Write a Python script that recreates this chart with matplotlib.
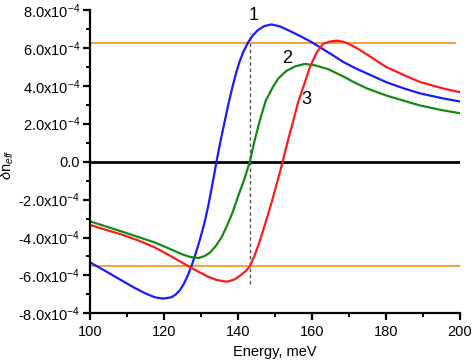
import matplotlib.pyplot as plt
import numpy as np
from matplotlib.ticker import MultipleLocator

plt.rcParams['font.family'] = ['Liberation Sans', 'DejaVu Sans']
plt.rcParams['mathtext.fontset'] = 'custom'
plt.rcParams['mathtext.rm'] = 'Liberation Sans'
plt.rcParams['mathtext.it'] = 'Liberation Sans:italic'

# curve 1 (blue), values in 1e-4
e1 = [100, 104, 108, 112, 115, 117.5, 119.8, 122, 123.2, 124.4, 125.4, 126.4, 127.4, 128.4,
      129.4, 130.3, 131.1, 132, 132.9, 133.6, 134.2, 135.3, 136.5, 137.5, 138.4, 139.4, 140.4,
      141.5, 142.8, 144, 145.5, 147.2, 149.1, 151.3, 154.1, 157, 159.9, 162, 165.8, 168.5,
      172, 176, 180.2, 185, 189.2, 195, 200]
n1 = [-5.31, -5.75, -6.2, -6.65, -6.95, -7.15, -7.22, -7.15, -7.0, -6.75, -6.43, -6.02, -5.52,
      -4.95, -4.32, -3.7, -3.1, -2.3, -1.38, -0.65, 0, 1.1, 2.2, 3.1, 3.85, 4.6, 5.25, 5.8, 6.3,
      6.65, 6.95, 7.15, 7.23, 7.13, 6.88, 6.6, 6.3, 6.05, 5.59, 5.25, 4.9, 4.55, 4.18, 3.85,
      3.6, 3.35, 3.17]

# curve 2 (green)
e2 = [100, 104, 108.5, 113, 117.5, 121, 124.7, 127, 129.3, 131, 132.5, 134, 135.6, 137,
      138.5, 140, 141.7, 143.2, 144.5, 145.9, 147.5, 149.5, 151, 153.1, 155.5, 158.1, 161,
      164.4, 168.9, 171.2, 175, 180.2, 185, 189.2, 195, 200]
n2 = [-3.15, -3.4, -3.68, -3.97, -4.26, -4.55, -4.87, -5.02, -5.08, -4.98, -4.78, -4.45, -3.98,
      -3.4, -2.7, -1.85, -0.95, 0, 1.1, 2.16, 3.2, 3.95, 4.4, 4.78, 5.02, 5.15, 5.07, 4.87,
      4.45, 4.2, 3.85, 3.48, 3.2, 2.96, 2.72, 2.55]

# curve 3 (red)
e3 = [100, 104, 108.5, 113, 117.5, 122, 126.5, 129.7, 132, 134.1, 136.9, 139, 141, 142.2,
      143.2, 144.5, 145.8, 146.8, 148.2, 149.5, 150.8, 152.1, 153.5, 154.9, 156.3, 157.8,
      159.5, 161.3, 163, 164.8, 166.7, 168.5, 170, 171.5, 173, 175.7, 178, 180.2, 185, 189.2,
      195, 200]
n3 = [-3.34, -3.58, -3.84, -4.15, -4.52, -5.0, -5.5, -5.84, -6.07, -6.23, -6.33, -6.22, -5.95,
      -5.75, -5.52, -4.95, -4.25, -3.64, -2.75, -1.88, -0.95, 0, 1.1, 2.1, 3.15, 4.0, 5.0,
      5.75, 6.2, 6.33, 6.37, 6.32, 6.2, 6.05, 5.88, 5.55, 5.25, 4.98, 4.55, 4.2, 3.88, 3.66]

upper_level = 6.24
lower_level = -5.52
marker_e = 143.2
scale = 1e-4

fig = plt.figure(figsize=(4.74, 3.64), dpi=100)
ax = fig.add_axes([0.19, 0.139, 0.78, 0.834])

ax.plot([100, 198.6], [upper_level * scale] * 2, color='#f39a2e', lw=1.3)
ax.plot([100, 200], [lower_level * scale] * 2, color='#f39a2e', lw=1.3)
ax.axhline(0, color='black', lw=2)
ax.plot([marker_e, marker_e], [-6.45e-4, 6.8e-4], color='#555555', lw=1, ls=(0, (2.5, 2)))

ax.plot(e1, np.array(n1) * scale, color='#1a1aff', lw=1.6)
ax.plot(e2, np.array(n2) * scale, color='#138a13', lw=1.6)
ax.plot(e3, np.array(n3) * scale, color='#ff1a1a', lw=1.6)

ax.text(144.3, 7.7e-4, '1', fontsize=13, ha='center', va='center')
ax.text(153.2, 5.43e-4, '2', fontsize=13, ha='center', va='center')
ax.text(158.6, 3.27e-4, '3', fontsize=13, ha='center', va='center')

ax.set_xlim(100, 200)
ax.set_ylim(-8e-4, 8e-4)
ax.xaxis.set_major_locator(MultipleLocator(20))
ax.xaxis.set_minor_locator(MultipleLocator(10))
ax.yaxis.set_minor_locator(MultipleLocator(1e-4))

yt = np.arange(-8, 9, 2)
ax.set_yticks(yt * scale)
ax.set_yticklabels(['0.0' if v == 0 else f'{v:.1f}x10$^{{-4}}$' for v in yt])

for s in ['top', 'right']:
    ax.spines[s].set_visible(False)
for s in ['left', 'bottom']:
    ax.spines[s].set_linewidth(1.6)
ax.tick_params(which='major', length=5, width=1.6, labelsize=10.5)
ax.tick_params(axis='y', which='major', pad=2)
ax.tick_params(which='minor', length=3, width=1.4)

ax.set_xlabel('Energy, meV', fontsize=10.5)
ax.set_ylabel(r'$\delta$n$_{eff}$', fontsize=10.5)
ax.yaxis.set_label_coords(-0.2, 0.49)

fig.savefig('out.png', dpi=100)
